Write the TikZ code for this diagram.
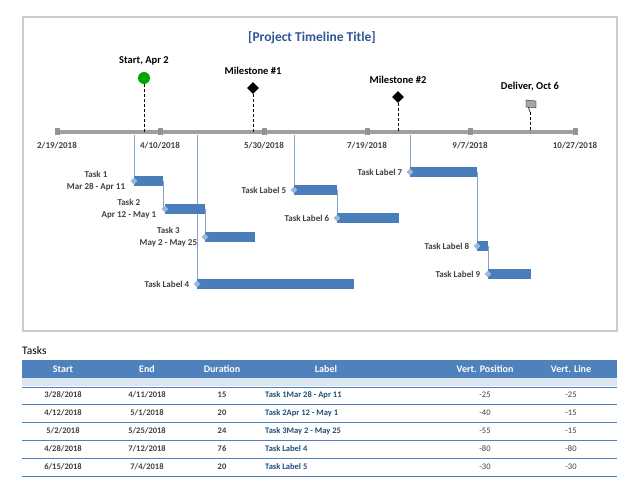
\documentclass[tikz,border=0pt]{standalone}
\usepackage{fontspec}
\setmainfont{Carlito}
\usetikzlibrary{shapes.geometric}
\definecolor{bbar}{HTML}{4A7EBB}
\definecolor{hdr}{HTML}{4F81BD}
\definecolor{lband}{HTML}{DCE6F1}
\definecolor{ttl}{HTML}{2F5597}
\definecolor{txt}{HTML}{404040}
\definecolor{lnk}{HTML}{1F4E79}
\begin{document}
\begin{tikzpicture}[x=1pt,y=-1pt,
  lbl/.style={font=\bfseries\fontsize{9}{10.5}\selectfont,text=txt,inner sep=1pt},
  mlbl/.style={font=\bfseries\fontsize{10.5}{12}\selectfont,inner sep=1pt},
  bar/.style={fill=bbar,draw=none},
  vl/.style={draw=bbar!70,line width=0.6pt},
  stem/.style={densely dashed,line width=0.6pt},
  dia/.style={diamond,fill=bbar!55,inner sep=0pt,minimum size=7pt},
  cell/.style={font=\bfseries\fontsize{8.5}{10}\selectfont,text=txt,inner sep=0pt},
  hcell/.style={font=\bfseries\fontsize{10}{12}\selectfont,text=white,inner sep=0pt}]
\useasboundingbox (0,0) rectangle (635,481);
\fill[white] (0,0) rectangle (635,481);
\draw[gray!40,line width=1.2pt] (23,17) rectangle (617,331);
\node[font=\bfseries\fontsize{13.5}{16}\selectfont,text=ttl] (title) at (312,38) {[Project Timeline Title]};
% axis
\coordinate (a0) at (57,132); \coordinate (a1) at (575,132);
\draw[gray!75,line width=4pt] (a0) -- (a1);
\foreach \x/\d in {57/2\slash19\slash2018,160/4\slash10\slash2018,264/5\slash30\slash2018,367/7\slash19\slash2018,470/9\slash7\slash2018,575/10\slash27\slash2018}{
  \fill[gray!85] (\x-2.5,128.5) rectangle (\x+2.5,135.5);
  \node[lbl] at (\x,146) {\d};}
% milestones
\node[circle,fill=green!65!black,inner sep=0pt,minimum size=12pt] (m0) at (144,78) {};
\node[mlbl] at (144,61) {Start, Apr 2};
\draw[stem] (m0) -- (144,132);
\node[diamond,fill=black,inner sep=0pt,minimum size=12pt] (m1) at (253,88) {};
\node[mlbl] at (253,71) {Milestone \#1};
\draw[stem] (m1) -- (253,132);
\node[diamond,fill=black,inner sep=0pt,minimum size=12pt] (m2) at (398,97) {};
\node[mlbl] at (398,80) {Milestone \#2};
\draw[stem] (m2) -- (398,132);
\coordinate (m3) at (530,112);
\draw[line width=0.6pt] (526,100) -- (m3);
\fill[gray!70,draw=black,line width=0.3pt] (526,100) -- (536,101) -- (536,108) -- (526,107) -- cycle;
\node[mlbl] at (530,87) {Deliver, Oct 6};
\draw[stem] (m3) -- (530,132);
% vertical lines
\draw[vl] (134,135) -- (134,181);
\draw[vl] (163,181) -- (163,209);
\draw[vl] (205,209) -- (205,237);
\draw[vl] (197,135) -- (197,284);
\draw[vl] (294,135) -- (294,190);
\draw[vl] (337,190) -- (337,218);
\draw[vl] (410,135) -- (410,172);
\draw[vl] (477,172) -- (477,246);
\draw[vl] (488,246) -- (488,274);
% bars
\foreach \s/\e/\y/\n in {134/163/181/t1,165/205/209/t2,205/255/237/t3,197/354/284/t4,294/337/190/t5,337/399/218/t6,410/477/172/t7,477/488/246/t8,488/531/274/t9}{
  \fill[bar] (\s,\y-5) rectangle (\e,\y+5);
  \node[dia] (\n) at (\s,\y) {};}
\node[lbl,anchor=east,align=center] at ([xshift=-4pt]t1.west) {Task 1\\[2pt]Mar 28 - Apr 11};
\node[lbl,anchor=east,align=center] at ([xshift=-4pt]t2.west) {Task 2\\[2pt]Apr 12 - May 1};
\node[lbl,anchor=east,align=center] at ([xshift=-3pt]t3.west) {Task 3\\[2pt]May 2 - May 25};
\node[lbl,anchor=east] at ([xshift=-3pt]t4.west) {Task Label 4};
\node[lbl,anchor=east] at ([xshift=-3pt]t5.west) {Task Label 5};
\node[lbl,anchor=east] at ([xshift=-3pt]t6.west) {Task Label 6};
\node[lbl,anchor=east] at ([xshift=-3pt]t7.west) {Task Label 7};
\node[lbl,anchor=east] at ([xshift=-3pt]t8.west) {Task Label 8};
\node[lbl,anchor=east] at ([xshift=-3pt]t9.west) {Task Label 9};
% table
\node[anchor=west,inner sep=0pt,font=\fontsize{11.5}{13}\selectfont] (tasks) at (22,351) {Tasks};
\fill[hdr] (22,360) rectangle (617,378);
\fill[lband] (22,378) rectangle (617,386);
\foreach \x/\t in {63/Start,147/End,222/Duration,326/Label,485/Vert. Position,571/Vert. Line}
  \node[hcell] at (\x,369) {\t};
\foreach \y in {387,404,422,440,458,476}
  \draw[hdr,line width=0.8pt] (22,\y) -- (617,\y);
\foreach \y/\a/\b/\c/\d/\e/\f in {395/3\slash28\slash2018/4\slash11\slash2018/15/Task 1Mar 28 - Apr 11/-25/-25,
  413/4\slash12\slash2018/5\slash1\slash2018/20/Task 2Apr 12 - May 1/-40/-15,
  431/5\slash2\slash2018/5\slash25\slash2018/24/Task 3May 2 - May 25/-55/-15,
  449/4\slash28\slash2018/7\slash12\slash2018/76/Task Label 4/-80/-80,
  467/6\slash15\slash2018/7\slash4\slash2018/20/Task Label 5/-30/-30}{
  \node[cell] at (63,\y) {\a};
  \node[cell] at (147,\y) {\b};
  \node[cell] at (222,\y) {\c};
  \node[cell,anchor=west,text=lnk] at (265,\y) {\d};
  \node[cell,font=\fontsize{8.5}{10}\selectfont] at (485,\y) {\e};
  \node[cell,font=\fontsize{8.5}{10}\selectfont] at (571,\y) {\f};}
\end{tikzpicture}
\end{document}
